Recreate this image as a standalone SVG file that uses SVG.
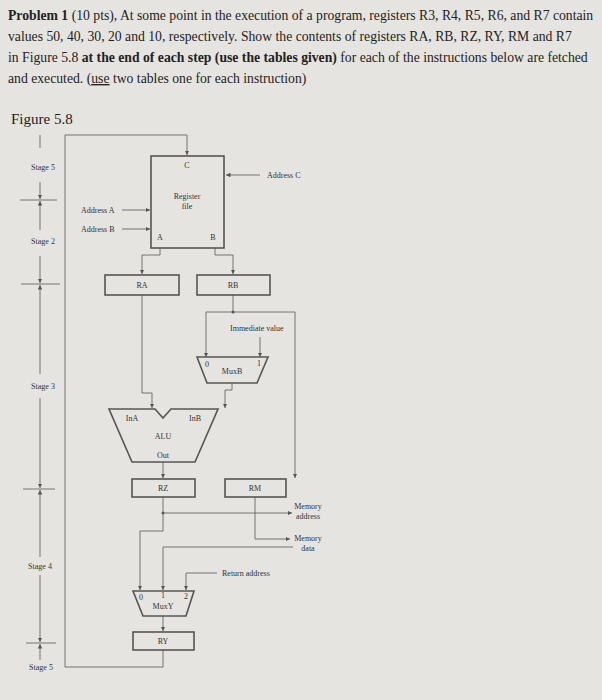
<svg xmlns="http://www.w3.org/2000/svg" width="602" height="700" viewBox="0 0 602 700">
<style>
.t{font-family:"Liberation Serif",serif;font-size:13.7px;fill:#222}
.f{font-family:"Liberation Serif",serif;font-size:15px;fill:#222}
.s{font-family:"Liberation Serif",serif;font-size:8px;fill:#333}
.m{font-family:"Liberation Serif",serif;font-size:8px;fill:#333;text-anchor:middle}
.b{fill:none;stroke:#555;stroke-width:1.6}
.w{fill:none;stroke:#666;stroke-width:0.9}
</style>
<defs><marker id="a" viewBox="0 0 6 6" refX="6" refY="3" markerWidth="5" markerHeight="5" orient="auto"><path d="M0,0L6,3L0,6z" fill="#555"/></marker></defs>
<rect width="602" height="700" fill="#e6e4e0"/>
<g id="problem">
<text class="t" x="8" y="20"><tspan font-weight="bold">Problem 1</tspan> (10 pts), At some point in the execution of a program, registers R3, R4, R5, R6, and R7 contain</text>
<text class="t" x="8" y="41">values 50, 40, 30, 20 and 10, respectively. Show the contents of registers RA, RB, RZ, RY, RM and R7</text>
<text class="t" x="8" y="62">in Figure 5.8 <tspan font-weight="bold">at the end of each step (use the tables given)</tspan> for each of the instructions below are fetched</text>
<text class="t" x="8" y="83">and executed. (<tspan text-decoration="underline">use</tspan> two tables one for each instruction)</text>
<text class="f" x="11" y="124">Figure 5.8</text>
</g>
<g id="stages">
<path class="w" d="M40,135V148"/>
<path class="w" d="M40,182V199" marker-end="url(#a)"/>
<path class="w" d="M20,200H57"/>
<path class="w" d="M40,230V201" marker-end="url(#a)"/>
<path class="w" d="M40,256V283" marker-end="url(#a)"/>
<path class="w" d="M21,284H60"/>
<path class="w" d="M40,374V285" marker-end="url(#a)"/>
<path class="w" d="M40,398V488" marker-end="url(#a)"/>
<path class="w" d="M23,489H55"/>
<path class="w" d="M40,557V490" marker-end="url(#a)"/>
<path class="w" d="M40,575V642" marker-end="url(#a)"/>
<path class="w" d="M26,643H56"/>
<path class="w" d="M40,660V644" marker-end="url(#a)"/>
<text class="m" x="43" y="170">Stage 5</text>
<text class="m" x="43" y="244">Stage 2</text>
<text class="m" x="43" y="389">Stage 3</text>
<text class="m" x="40" y="569">Stage 4</text>
<text class="m" x="41" y="670">Stage 5</text>
</g>
<g id="connectors">
<path class="w" d="M163,650V667H65V135H187V155" marker-end="url(#a)"/>
<path class="w" d="M260,175H226" marker-end="url(#a)"/>
<path class="w" d="M122,210H150" marker-end="url(#a)"/>
<path class="w" d="M122,229H150" marker-end="url(#a)"/>
<path class="w" d="M160,248V255H142V274" marker-end="url(#a)"/>
<path class="w" d="M215,248V255H233V274" marker-end="url(#a)"/>
<path class="w" d="M233,295V312"/>
<path class="w" d="M206,312H295V478" marker-end="url(#a)"/>
<path class="w" d="M206,312V357" marker-end="url(#a)"/>
<circle cx="233" cy="312" r="1.5" fill="#555"/>
<path class="w" d="M260,337V357" marker-end="url(#a)"/>
<path class="w" d="M232,383V390H225V408" marker-end="url(#a)"/>
<path class="w" d="M142,295V393H152V408" marker-end="url(#a)"/>
<path class="w" d="M163,462V478" marker-end="url(#a)"/>
<path class="w" d="M163,497V513H292" marker-end="url(#a)"/>
<circle cx="163" cy="513" r="1.5" fill="#555"/>
<path class="w" d="M163,513V531H140V590" marker-end="url(#a)"/>
<path class="w" d="M255,497V539H290" marker-end="url(#a)"/>
<path class="w" d="M293,547H163V590" marker-end="url(#a)"/>
<path class="w" d="M217,573H186V590" marker-end="url(#a)"/>
<path class="w" d="M163,616V631" marker-end="url(#a)"/>
</g>
<g id="regfile"><rect class="b" x="151" y="156" width="73" height="92"/>
<text class="m" x="187" y="168">C</text><text class="m" x="187" y="199">Register</text><text class="m" x="187" y="209">file</text>
<text class="m" x="160" y="240">A</text><text class="m" x="213" y="240">B</text></g>
<text class="s" x="267" y="178">Address C</text>
<text class="s" x="81" y="213">Address A</text>
<text class="s" x="81" y="232">Address B</text>
<g id="RA"><rect class="b" x="105" y="275" width="74" height="20"/><text class="m" x="142" y="288">RA</text></g>
<g id="RB"><rect class="b" x="197" y="275" width="73" height="20"/><text class="m" x="233" y="288">RB</text></g>
<text class="s" x="230" y="331">Immediate value</text>
<g id="MuxB"><path class="b" d="M197,357H268L257,383H207Z"/><text class="m" x="232" y="374">MuxB</text><text class="m" x="207" y="367">0</text><text class="m" x="259" y="366">1</text></g>
<g id="ALU"><path class="b" d="M109,409H155L163,418L171,409H218L195,462H132Z"/>
<text class="m" x="132" y="421">InA</text><text class="m" x="195" y="421">InB</text><text class="m" x="163" y="439">ALU</text><text class="m" x="163" y="458">Out</text></g>
<g id="RZ"><rect class="b" x="132" y="479" width="63" height="18"/><text class="m" x="163" y="491">RZ</text></g>
<g id="RM"><rect class="b" x="225" y="479" width="61" height="18"/><text class="m" x="255" y="491">RM</text></g>
<text class="m" x="308" y="509">Memory</text><text class="m" x="308" y="519">address</text>
<text class="m" x="308" y="541">Memory</text><text class="m" x="308" y="551">data</text>
<text class="s" x="222" y="576">Return address</text>
<g id="MuxY"><path class="b" d="M133,591H194L186,616H143Z"/>
<text class="m" x="141" y="600">0</text><text class="m" x="163" y="598">1</text><text class="m" x="186" y="599">2</text><text class="m" x="163" y="609">MuxY</text></g>
<g id="RY"><rect class="b" x="133" y="632" width="61" height="18"/><text class="m" x="163" y="644">RY</text></g>
</svg>
